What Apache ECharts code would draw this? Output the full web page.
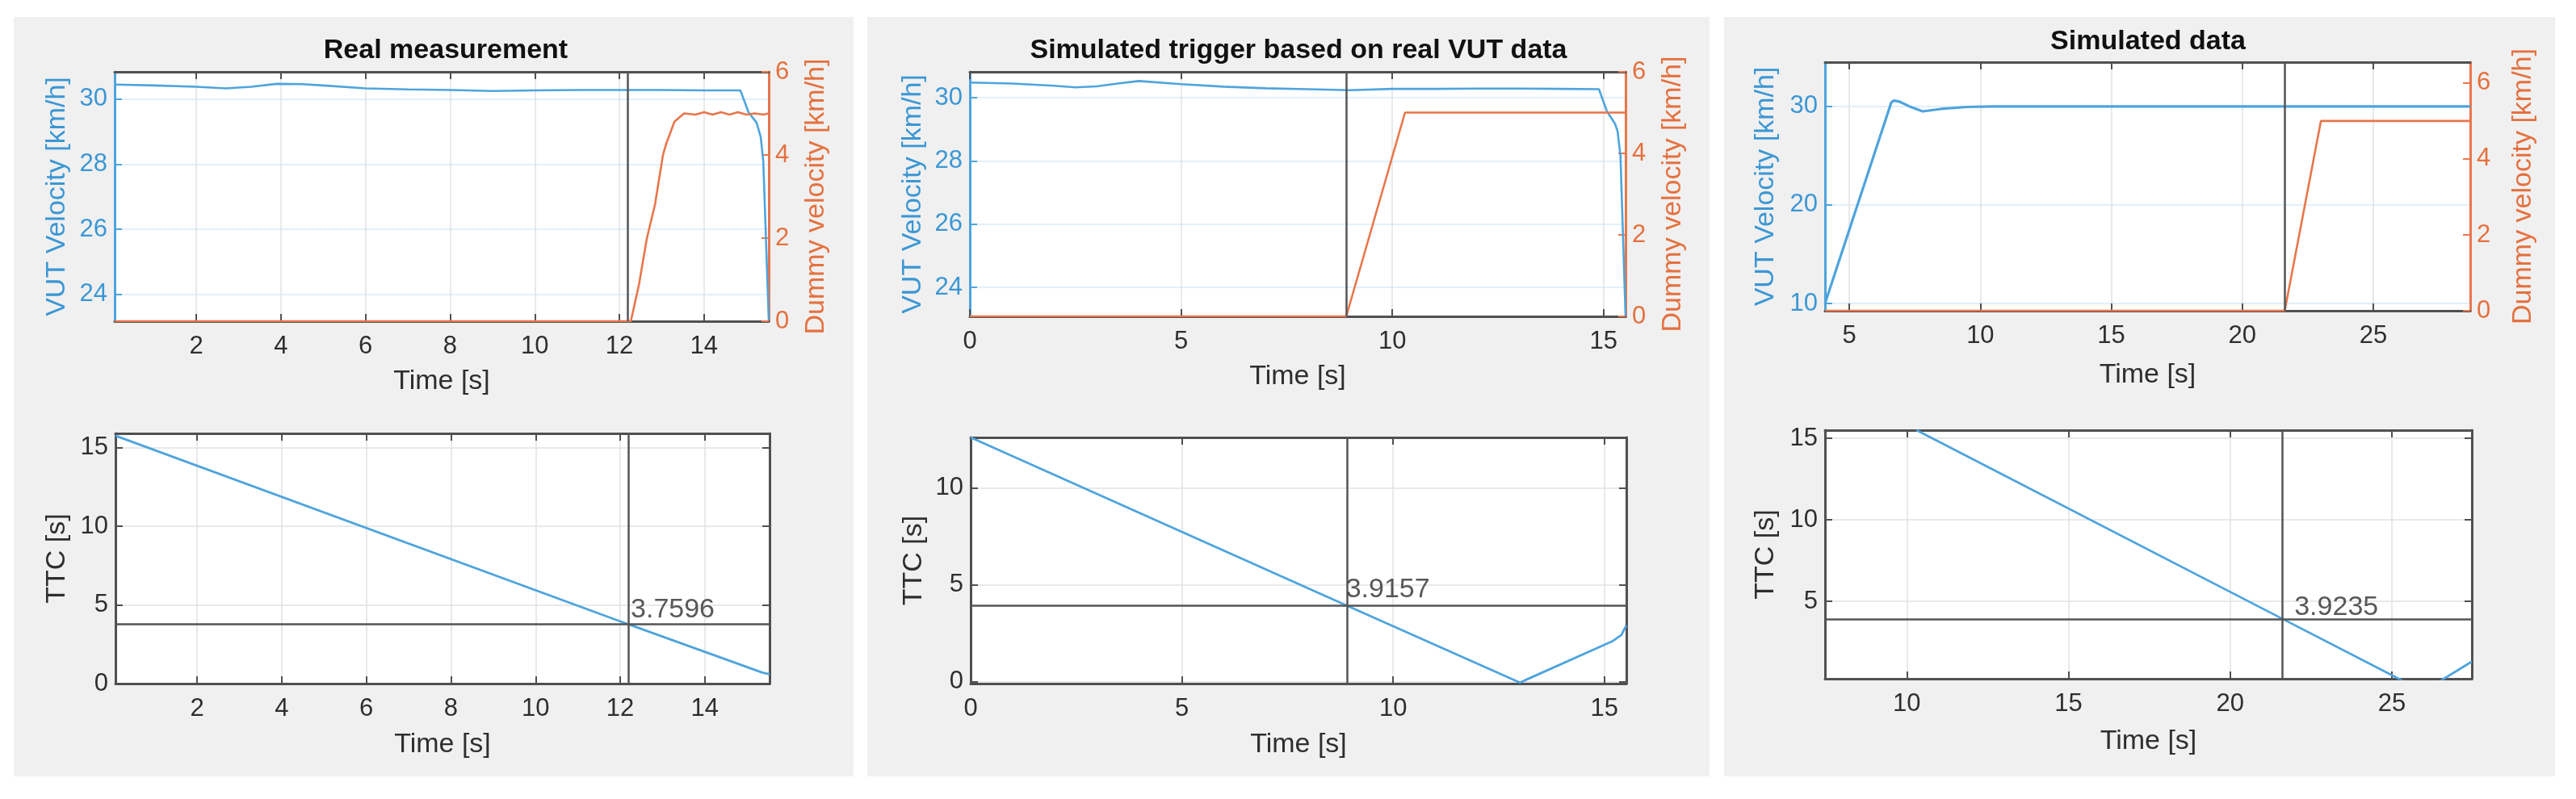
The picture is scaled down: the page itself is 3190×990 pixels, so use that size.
<!DOCTYPE html>
<html><head><meta charset="utf-8">
<script src="https://cdn.jsdelivr.net/npm/echarts@6/dist/echarts.min.js"></script>
<style>html,body{margin:0;padding:0;background:#fff}#c{width:3190px;height:990px}</style>
</head><body><div id="c"></div><script>
// ---------- data ----------
const panelTitles = ['Real measurement', 'Simulated trigger based on real VUT data', 'Simulated data'];

// Real measurement
const realVutT = [0.07, 1, 2, 2.7, 3.3, 3.9, 4.5, 5, 6, 7, 8, 9, 10, 11, 12, 13, 14, 14.86, 15.05, 15.24, 15.34, 15.4, 15.53];
const realVutV = [30.45, 30.42, 30.38, 30.33, 30.38, 30.47, 30.46, 30.42, 30.33, 30.3, 30.28, 30.25, 30.27, 30.28, 30.28, 30.28, 30.27, 30.27, 29.6, 29.28, 28.84, 28.1, 23.2];
const realDummyT = [0.07, 12.27, 12.46, 12.65, 12.84, 13.03, 13.1, 13.3, 13.53, 13.8, 14.0, 14.2, 14.4, 14.6, 14.8, 15.0, 15.2, 15.4, 15.53];
const realDummyV = [0, 0, 0.87, 2.0, 2.8, 4.0, 4.25, 4.8, 5.0, 4.97, 5.03, 4.97, 5.03, 4.97, 5.03, 4.97, 5.0, 4.97, 5.0];
const realTtcT = [0.07, 12.2, 15.36, 15.53];
const realTtcV = [15.75, 3.76, 0.7, 0.6];

// Simulated trigger based on real VUT data
const midVutT = [0, 1, 2, 2.5, 3, 3.5, 4, 5, 6, 7, 8, 9, 10, 11, 12, 13, 14, 14.89, 15.08, 15.27, 15.33, 15.4, 15.52];
const midVutV = [30.48, 30.45, 30.38, 30.33, 30.36, 30.45, 30.53, 30.43, 30.35, 30.3, 30.27, 30.24, 30.28, 30.28, 30.29, 30.29, 30.28, 30.27, 29.57, 29.18, 28.95, 28.16, 23.1];
const midDummyT = [0, 8.91, 10.3, 15.52];
const midDummyV = [0, 0, 5, 5];
const midTtcT = [0, 8.91, 13.0, 13.1, 15.2, 15.4, 15.52];
const midTtcV = [12.6, 3.92, -0.05, 0.05, 2.1, 2.4, 2.9];

// Simulated data
const simVutT = [4.07, 6.6, 6.7, 6.9, 7.3, 7.8, 8.5, 9.5, 10.5, 28.7];
const simVutV = [10, 30.4, 30.6, 30.5, 30.0, 29.5, 29.75, 29.95, 30, 30];
const simDummyT = [4.07, 21.62, 23.0, 28.7];
const simDummyV = [0, 0, 5, 5];
const simTtcT = [10.3, 21.62, 25.2, 25.45, 26.4, 27.47];
const simTtcV = [15.5, 3.92, 0.26, 0, 0, 1.3];

// trigger markers
const triggerTimes = [12.2, 8.91, 21.62];
const triggerTtc = [3.7596, 3.9157, 3.9235];
const triggerLabels = ['3.7596', '3.9157', '3.9235'];

// axis ranges and ticks
const xRangeTop = [[0.07, 15.53], [0, 15.52], [4.07, 28.7]];
const xRangeBot = [[0.07, 15.53], [0, 15.52], [7.47, 27.47]];
const xTicksTop = [[2, 4, 6, 8, 10, 12, 14], [0, 5, 10, 15], [5, 10, 15, 20, 25]];
const xTicksBot = [[2, 4, 6, 8, 10, 12, 14], [0, 5, 10, 15], [10, 15, 20, 25]];
const vutRange = [[23.17, 30.84], [23.08, 30.82], [9.26, 34.5]];
const vutTicks = [[24, 26, 28, 30], [24, 26, 28, 30], [10, 20, 30]];
const dummyRange = [[0, 6], [0, 6], [0, 6.55]];
const dummyTicks = [[0, 2, 4, 6], [0, 2, 4, 6], [0, 2, 4, 6]];
const ttcRange = [[0, 15.9], [-0.1, 12.6], [0.25, 15.5]];
const ttcTicks = [[0, 5, 10, 15], [0, 5, 10], [5, 10, 15]];

// ---------- styling / layout ----------
const FONT = '"Liberation Sans", Arial, Helvetica, sans-serif';
const DARK = '#505050';
const TXT = '#2e2e2e';
const BLUE = '#4ea4dd';
const BLUE_T = '#3b97d4';
const ORANGE = '#e8764b';
const ORANGE_T = '#e4713f';
const GRIDC = '#e2e2e2';
const GRIDB = '#d9ebf8';

const gridsTop = [
  {left: 142, top: 89, width: 810, height: 309},
  {left: 1201, top: 89, width: 812, height: 303},
  {left: 2260, top: 77, width: 799, height: 308}
];
const gridsBot = [
  {left: 143, top: 537, width: 810, height: 310},
  {left: 1202, top: 542, width: 812, height: 305},
  {left: 2260, top: 533, width: 801, height: 308}
];
const velNameGapL = [54, 53, 56];
const velNameGapR = [42, 42, 49];
const ttcNameGap = [55, 53, 56];
const timeGapTop = [58, 58, 63];
const timeGapBot = [59, 59, 61];
const labelOffsets = [[2, -18], [-2, -20], [14, -14]];

const grid = [], xAxis = [], yAxis = [], series = [];

function zip(t, v) { return t.map((x, i) => [x, v[i]]); }

function mkX(g, range, ticks, gap) {
  xAxis.push({
    type: 'value', gridIndex: g, position: 'bottom', min: range[0], max: range[1],
    name: 'Time [s]', nameLocation: 'middle', nameGap: gap,
    nameTextStyle: {fontSize: 34, color: TXT, fontFamily: FONT},
    axisLine: {show: true, onZero: false, lineStyle: {color: DARK, width: 3}},
    axisTick: {show: true, inside: true, length: 9, customValues: ticks, lineStyle: {color: DARK, width: 2}},
    axisLabel: {show: true, customValues: ticks, fontSize: 31, color: TXT, margin: 16, fontFamily: FONT},
    splitLine: {show: true, lineStyle: {color: GRIDC, width: 1.5}}
  });
  xAxis.push({
    type: 'value', gridIndex: g, position: 'top', min: range[0], max: range[1],
    axisLine: {show: true, onZero: false, lineStyle: {color: DARK, width: 3}},
    axisTick: {show: true, inside: true, length: 9, customValues: ticks, lineStyle: {color: DARK, width: 2}},
    axisLabel: {show: false}, splitLine: {show: false}
  });
}

function mkY(g, pos, range, ticks, name, gap, lineC, textC, split, splitC, showLab) {
  yAxis.push({
    type: 'value', gridIndex: g, position: pos, min: range[0], max: range[1],
    name: name, nameLocation: 'middle', nameGap: gap,
    nameTextStyle: {fontSize: 34, color: textC, fontFamily: FONT},
    axisLine: {show: true, onZero: false, lineStyle: {color: lineC, width: 3}},
    axisTick: {show: true, inside: true, length: 9, customValues: ticks, lineStyle: {color: lineC, width: 2}},
    axisLabel: {show: showLab, customValues: ticks, fontSize: 31, color: textC, margin: pos === 'left' ? 9 : 8, fontFamily: FONT},
    splitLine: {show: split, lineStyle: {color: splitC, width: 1.5}}
  });
}

const vutT = [realVutT, midVutT, simVutT], vutV = [realVutV, midVutV, simVutV];
const dumT = [realDummyT, midDummyT, simDummyT], dumV = [realDummyV, midDummyV, simDummyV];
const ttT = [realTtcT, midTtcT, simTtcT], ttV = [realTtcV, midTtcV, simTtcV];

function markLineCfg(data) {
  return {
    silent: true, symbol: ['none', 'none'], label: {show: false},
    lineStyle: {color: '#555', width: 2.5, type: 'solid'}, animation: false, data: data
  };
}

for (let p = 0; p < 3; p++) {
  const gt = 2 * p, gb = 2 * p + 1;
  grid.push(Object.assign({show: true, backgroundColor: '#ffffff', borderWidth: 0, containLabel: false, outerBoundsMode: 'none'}, gridsTop[p]));
  grid.push(Object.assign({show: true, backgroundColor: '#ffffff', borderWidth: 0, containLabel: false, outerBoundsMode: 'none'}, gridsBot[p]));

  mkX(gt, xRangeTop[p], xTicksTop[p], timeGapTop[p]);
  mkY(gt, 'left', vutRange[p], vutTicks[p], 'VUT Velocity [km/h]', velNameGapL[p], BLUE, BLUE_T, true, GRIDB, true);
  mkY(gt, 'right', dummyRange[p], dummyTicks[p], 'Dummy velocity [km/h]', velNameGapR[p], ORANGE, ORANGE_T, false, GRIDC, true);
  mkX(gb, xRangeBot[p], xTicksBot[p], timeGapBot[p]);
  mkY(gb, 'left', ttcRange[p], ttcTicks[p], 'TTC [s]', ttcNameGap[p], DARK, TXT, true, GRIDC, true);
  mkY(gb, 'right', ttcRange[p], ttcTicks[p], '', 10, DARK, TXT, false, GRIDC, false);

  series.push({
    type: 'line', name: 'VUT', xAxisIndex: 4 * p, yAxisIndex: 4 * p, data: zip(vutT[p], vutV[p]),
    showSymbol: false, symbol: 'none', lineStyle: {color: BLUE, width: p === 2 ? 3.2 : 2.6}, itemStyle: {color: BLUE}, z: 3,
    markLine: markLineCfg([{xAxis: triggerTimes[p]}])
  });
  series.push({
    type: 'line', name: 'Dummy', xAxisIndex: 4 * p, yAxisIndex: 4 * p + 1, data: zip(dumT[p], dumV[p]),
    showSymbol: false, symbol: 'none', lineStyle: {color: ORANGE, width: 2.6}, itemStyle: {color: ORANGE}, z: 3
  });
  series.push({
    type: 'line', name: 'TTC', xAxisIndex: 4 * p + 2, yAxisIndex: 4 * p + 2, data: zip(ttT[p], ttV[p]),
    showSymbol: false, symbol: 'none', lineStyle: {color: BLUE, width: 2.8}, itemStyle: {color: BLUE}, z: 3,
    markLine: markLineCfg([{xAxis: triggerTimes[p]}, {yAxis: triggerTtc[p]}])
  });
  series.push({
    type: 'scatter', xAxisIndex: 4 * p + 2, yAxisIndex: 4 * p + 2,
    data: [[triggerTimes[p], triggerTtc[p]]], symbolSize: 1, itemStyle: {color: 'rgba(0,0,0,0)'}, z: 5,
    label: {show: true, position: 'right', distance: 0, offset: labelOffsets[p],
      formatter: (function (s) { return function () { return s; }; })(triggerLabels[p]),
      fontSize: 34, color: TXT, fontFamily: FONT}
  });
}

const panels = [[17, 21, 1040, 941], [1074, 21, 1043, 941], [2135, 21, 1029, 941]];
const titlePos = [[552, 63], [1608, 63], [2660, 52]];
const graphic = [];
panels.forEach(function (r) {
  graphic.push({type: 'rect', z: -10, silent: true, shape: {x: r[0], y: r[1], width: r[2], height: r[3]}, style: {fill: '#f0f0f0'}});
});
titlePos.forEach(function (pt, i) {
  graphic.push({type: 'text', z: 10, silent: true, x: pt[0], y: pt[1],
    style: {text: panelTitles[i], fill: '#111', font: 'bold 34px ' + FONT, textAlign: 'center', textVerticalAlign: 'middle'}});
});

const chart = echarts.init(document.getElementById('c'), null, {renderer: 'canvas'});
chart.setOption({
  backgroundColor: '#ffffff',
  animation: false,
  textStyle: {fontFamily: FONT},
  graphic: graphic,
  grid: grid, xAxis: xAxis, yAxis: yAxis, series: series
});
</script></body></html>
